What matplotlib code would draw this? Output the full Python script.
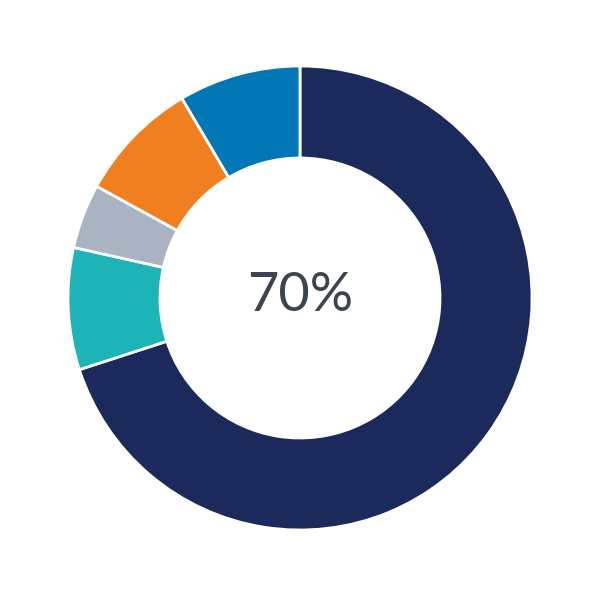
import matplotlib
matplotlib.use("Agg")
import matplotlib.pyplot as plt

labels = ["Navy", "Teal", "Gray", "Orange", "Blue"]
values = [70, 8.5, 4.5, 8.5, 8.5]
colors = ["#1b2a5a", "#1cb4b6", "#a9b3c1", "#f07f20", "#0277b5"]
center_label = "70%"

fig = plt.figure(figsize=(6, 5.99), dpi=100)
ax = fig.add_axes([0, 0, 1, 1])

r_px = 232
ax.pie(values, colors=colors, startangle=90, counterclock=False,
       radius=1, wedgeprops=dict(width=92 / r_px, edgecolor="white", linewidth=2))
ax.set_aspect("auto")
ax.set_xlim(-300 / r_px, 300 / r_px)
ax.set_ylim(-301 / r_px, 298 / r_px)
ax.axis("off")

ax.text(0, 0.01, center_label, ha="center", va="center", fontsize=39,
        family="Lato", color="#3a4550")

fig.savefig("out.png", dpi=100)
